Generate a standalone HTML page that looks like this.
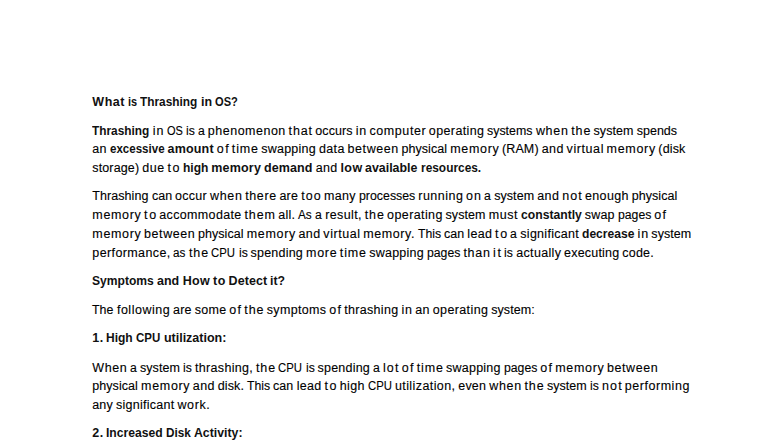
<!DOCTYPE html><html><head><meta charset="utf-8"><style>html,body{margin:0;padding:0;background:#fff;width:784px;height:441px;overflow:hidden;}body{position:relative;font-family:"Liberation Sans",sans-serif;color:#000;}i{position:absolute;font-style:normal;white-space:pre;font-size:12.5px;line-height:0;transform-origin:0 0;-webkit-text-stroke:0.12px #000;}i.b{font-weight:bold;color:#111;-webkit-text-stroke:0.0px #000;}</style></head><body>
<i class="b" style="left:92.30px;top:102.00px;letter-spacing:0.547px">What</i>
<i class="b" style="left:127.71px;top:102.00px;transform:scaleX(0.8743)">is</i>
<i class="b" style="left:140.03px;top:102.00px;transform:scaleX(0.9491)">Thrashing</i>
<i class="b" style="left:200.58px;top:102.00px;transform:scaleX(0.9972)">in</i>
<i class="b" style="left:214.86px;top:102.00px;transform:scaleX(0.8881)">OS?</i>
<i class="b" style="left:92.30px;top:131.00px;transform:scaleX(0.9491)">Thrashing</i>
<i style="left:152.85px;top:131.00px;letter-spacing:0.953px">in</i>
<i style="left:166.74px;top:131.00px;transform:scaleX(0.8798)">OS</i>
<i style="left:185.83px;top:131.00px;transform:scaleX(0.9740)">is</i>
<i style="left:197.83px;top:131.00px;transform:scaleX(0.9753)">a</i>
<i style="left:207.82px;top:131.00px;letter-spacing:0.503px">phenomenon</i>
<i style="left:288.53px;top:131.00px;letter-spacing:0.906px">that</i>
<i style="left:315.32px;top:131.00px;letter-spacing:0.056px">occurs</i>
<i style="left:355.63px;top:131.00px;letter-spacing:0.953px">in</i>
<i style="left:369.52px;top:131.00px;letter-spacing:0.569px">computer</i>
<i style="left:428.82px;top:131.00px;letter-spacing:0.389px">operating</i>
<i style="left:487.25px;top:131.00px;transform:scaleX(0.9908)">systems</i>
<i style="left:535.88px;top:131.00px;letter-spacing:0.719px">when</i>
<i style="left:571.13px;top:131.00px;letter-spacing:0.922px">the</i>
<i style="left:593.57px;top:131.00px;letter-spacing:0.059px">system</i>
<i style="left:636.66px;top:131.00px;letter-spacing:0.025px">spends</i>
<i style="left:92.30px;top:149.20px;letter-spacing:0.312px">an</i>
<i class="b" style="left:109.72px;top:149.20px;transform:scaleX(0.9241)">excessive</i>
<i class="b" style="left:167.53px;top:149.20px;letter-spacing:0.191px">amount</i>
<i style="left:216.83px;top:149.20px;letter-spacing:1.359px">of</i>
<i style="left:231.83px;top:149.20px;letter-spacing:0.875px">time</i>
<i style="left:261.28px;top:149.20px;letter-spacing:0.230px">swapping</i>
<i style="left:318.93px;top:149.20px;letter-spacing:0.365px">data</i>
<i style="left:347.57px;top:149.20px;letter-spacing:0.568px">between</i>
<i style="left:401.44px;top:149.20px;letter-spacing:0.058px">physical</i>
<i style="left:450.22px;top:149.20px;letter-spacing:0.678px">memory</i>
<i style="left:501.97px;top:149.20px;letter-spacing:0.117px">(RAM)</i>
<i style="left:541.75px;top:149.20px;letter-spacing:0.398px">and</i>
<i style="left:566.61px;top:149.20px;letter-spacing:0.576px">virtual</i>
<i style="left:606.61px;top:149.20px;letter-spacing:0.678px">memory</i>
<i style="left:658.36px;top:149.20px;letter-spacing:0.137px">(disk</i>
<i style="left:92.30px;top:168.00px;letter-spacing:0.129px">storage)</i>
<i style="left:142.27px;top:168.00px;letter-spacing:0.531px">due</i>
<i style="left:167.39px;top:168.00px;letter-spacing:1.641px">to</i>
<i class="b" style="left:182.68px;top:168.00px;transform:scaleX(0.9621)">high</i>
<i class="b" style="left:211.27px;top:168.00px;letter-spacing:0.188px">memory</i>
<i class="b" style="left:264.05px;top:168.00px;letter-spacing:0.097px">demand</i>
<i style="left:315.68px;top:168.00px;letter-spacing:0.398px">and</i>
<i class="b" style="left:340.53px;top:168.00px;letter-spacing:0.383px">low</i>
<i class="b" style="left:365.35px;top:168.00px;transform:scaleX(0.9923)">available</i>
<i class="b" style="left:420.97px;top:168.00px;transform:scaleX(0.9516)">resources.</i>
<i style="left:92.30px;top:196.20px;letter-spacing:0.062px">Thrashing</i>
<i style="left:151.60px;top:196.20px;transform:scaleX(0.9969)">can</i>
<i style="left:174.89px;top:196.20px;letter-spacing:0.309px">occur</i>
<i style="left:209.91px;top:196.20px;letter-spacing:0.719px">when</i>
<i style="left:245.16px;top:196.20px;letter-spacing:0.629px">there</i>
<i style="left:279.38px;top:196.20px;letter-spacing:0.250px">are</i>
<i style="left:301.16px;top:196.20px;letter-spacing:1.078px">too</i>
<i style="left:323.91px;top:196.20px;letter-spacing:0.365px">many</i>
<i style="left:358.78px;top:196.20px;transform:scaleX(0.9879)">processes</i>
<i style="left:418.28px;top:196.20px;letter-spacing:0.484px">running</i>
<i style="left:466.10px;top:196.20px;letter-spacing:1.000px">on</i>
<i style="left:484.21px;top:196.20px;transform:scaleX(0.9753)">a</i>
<i style="left:494.19px;top:196.20px;letter-spacing:0.059px">system</i>
<i style="left:537.28px;top:196.20px;letter-spacing:0.398px">and</i>
<i style="left:562.14px;top:196.20px;letter-spacing:1.133px">not</i>
<i style="left:585.00px;top:196.20px;letter-spacing:0.356px">enough</i>
<i style="left:631.71px;top:196.20px;letter-spacing:0.058px">physical</i>
<i style="left:92.30px;top:215.00px;letter-spacing:0.678px">memory</i>
<i style="left:144.05px;top:215.00px;letter-spacing:1.641px">to</i>
<i style="left:159.33px;top:215.00px;letter-spacing:0.339px">accommodate</i>
<i style="left:244.44px;top:215.00px;letter-spacing:0.917px">them</i>
<i style="left:278.19px;top:215.00px;letter-spacing:0.292px">all.</i>
<i style="left:298.25px;top:215.00px;transform:scaleX(0.9411)">As</i>
<i style="left:315.19px;top:215.00px;transform:scaleX(0.9753)">a</i>
<i style="left:325.18px;top:215.00px;letter-spacing:0.375px">result,</i>
<i style="left:364.68px;top:215.00px;letter-spacing:0.922px">the</i>
<i style="left:387.11px;top:215.00px;letter-spacing:0.389px">operating</i>
<i style="left:445.55px;top:215.00px;letter-spacing:0.059px">system</i>
<i style="left:488.64px;top:215.00px;letter-spacing:0.594px">must</i>
<i class="b" style="left:520.72px;top:215.00px;transform:scaleX(0.9738)">constantly</i>
<i style="left:584.80px;top:215.00px;letter-spacing:0.156px">swap</i>
<i style="left:617.66px;top:215.00px;transform:scaleX(0.9794)">pages</i>
<i style="left:654.22px;top:215.00px;letter-spacing:1.359px">of</i>
<i style="left:92.30px;top:234.00px;letter-spacing:0.678px">memory</i>
<i style="left:144.05px;top:234.00px;letter-spacing:0.568px">between</i>
<i style="left:197.93px;top:234.00px;letter-spacing:0.058px">physical</i>
<i style="left:246.71px;top:234.00px;letter-spacing:0.678px">memory</i>
<i style="left:298.46px;top:234.00px;letter-spacing:0.398px">and</i>
<i style="left:323.32px;top:234.00px;letter-spacing:0.576px">virtual</i>
<i style="left:363.32px;top:234.00px;letter-spacing:0.583px">memory.</i>
<i style="left:417.71px;top:234.00px;transform:scaleX(0.9788)">This</i>
<i style="left:444.03px;top:234.00px;transform:scaleX(0.9969)">can</i>
<i style="left:467.33px;top:234.00px;letter-spacing:0.292px">lead</i>
<i style="left:495.05px;top:234.00px;letter-spacing:1.641px">to</i>
<i style="left:510.33px;top:234.00px;transform:scaleX(0.9753)">a</i>
<i style="left:520.32px;top:234.00px;letter-spacing:0.273px">significant</i>
<i class="b" style="left:581.85px;top:234.00px;transform:scaleX(0.9669)">decrease</i>
<i style="left:637.47px;top:234.00px;letter-spacing:0.953px">in</i>
<i style="left:651.36px;top:234.00px;letter-spacing:0.059px">system</i>
<i style="left:92.30px;top:252.60px;letter-spacing:0.389px">performance,</i>
<i style="left:173.44px;top:252.60px;transform:scaleX(0.9337)">as</i>
<i style="left:188.97px;top:252.60px;letter-spacing:0.922px">the</i>
<i style="left:211.41px;top:252.60px;transform:scaleX(0.9071)">CPU</i>
<i style="left:238.57px;top:252.60px;transform:scaleX(0.9740)">is</i>
<i style="left:250.57px;top:252.60px;letter-spacing:0.214px">spending</i>
<i style="left:306.02px;top:252.60px;letter-spacing:0.698px">more</i>
<i style="left:339.80px;top:252.60px;letter-spacing:0.875px">time</i>
<i style="left:369.25px;top:252.60px;letter-spacing:0.230px">swapping</i>
<i style="left:426.89px;top:252.60px;transform:scaleX(0.9794)">pages</i>
<i style="left:463.46px;top:252.60px;letter-spacing:0.688px">than</i>
<i style="left:493.07px;top:252.60px;letter-spacing:1.750px">it</i>
<i style="left:504.27px;top:252.60px;transform:scaleX(0.9740)">is</i>
<i style="left:516.27px;top:252.60px;letter-spacing:0.321px">actually</i>
<i style="left:564.11px;top:252.60px;letter-spacing:0.191px">executing</i>
<i style="left:622.36px;top:252.60px;letter-spacing:0.199px">code.</i>
<i class="b" style="left:92.30px;top:281.00px;transform:scaleX(0.9670)">Symptoms</i>
<i class="b" style="left:157.30px;top:281.00px;transform:scaleX(0.9979)">and</i>
<i class="b" style="left:182.69px;top:281.00px;letter-spacing:0.336px">How</i>
<i class="b" style="left:212.96px;top:281.00px;letter-spacing:0.578px">to</i>
<i class="b" style="left:228.55px;top:281.00px;letter-spacing:0.087px">Detect</i>
<i class="b" style="left:270.41px;top:281.00px;transform:scaleX(0.9785)">it?</i>
<i style="left:92.30px;top:310.00px;transform:scaleX(0.9927)">The</i>
<i style="left:116.89px;top:310.00px;letter-spacing:0.529px">following</i>
<i style="left:172.97px;top:310.00px;letter-spacing:0.250px">are</i>
<i style="left:194.75px;top:310.00px;letter-spacing:0.260px">some</i>
<i style="left:229.32px;top:310.00px;letter-spacing:1.359px">of</i>
<i style="left:244.32px;top:310.00px;letter-spacing:0.922px">the</i>
<i style="left:266.75px;top:310.00px;letter-spacing:0.335px">symptoms</i>
<i style="left:329.25px;top:310.00px;letter-spacing:1.359px">of</i>
<i style="left:344.25px;top:310.00px;letter-spacing:0.312px">thrashing</i>
<i style="left:401.39px;top:310.00px;letter-spacing:0.953px">in</i>
<i style="left:415.28px;top:310.00px;letter-spacing:0.312px">an</i>
<i style="left:432.71px;top:310.00px;letter-spacing:0.389px">operating</i>
<i style="left:491.14px;top:310.00px;letter-spacing:0.102px">system:</i>
<i class="b" style="left:92.30px;top:338.10px;letter-spacing:0.531px">1.</i>
<i class="b" style="left:106.47px;top:338.10px;transform:scaleX(0.9618)">High</i>
<i class="b" style="left:136.39px;top:338.10px;transform:scaleX(0.9195)">CPU</i>
<i class="b" style="left:163.88px;top:338.10px;letter-spacing:0.004px">utilization:</i>
<i style="left:92.30px;top:367.60px;letter-spacing:0.620px">When</i>
<i style="left:130.02px;top:367.60px;transform:scaleX(0.9753)">a</i>
<i style="left:140.00px;top:367.60px;letter-spacing:0.059px">system</i>
<i style="left:183.10px;top:367.60px;transform:scaleX(0.9740)">is</i>
<i style="left:195.10px;top:367.60px;letter-spacing:0.302px">thrashing,</i>
<i style="left:255.93px;top:367.60px;letter-spacing:0.922px">the</i>
<i style="left:278.36px;top:367.60px;transform:scaleX(0.9071)">CPU</i>
<i style="left:305.52px;top:367.60px;transform:scaleX(0.9740)">is</i>
<i style="left:317.52px;top:367.60px;letter-spacing:0.214px">spending</i>
<i style="left:372.97px;top:367.60px;transform:scaleX(0.9753)">a</i>
<i style="left:382.96px;top:367.60px;letter-spacing:1.133px">lot</i>
<i style="left:401.63px;top:367.60px;letter-spacing:1.359px">of</i>
<i style="left:416.63px;top:367.60px;letter-spacing:0.875px">time</i>
<i style="left:446.08px;top:367.60px;letter-spacing:0.230px">swapping</i>
<i style="left:503.72px;top:367.60px;transform:scaleX(0.9794)">pages</i>
<i style="left:540.28px;top:367.60px;letter-spacing:1.359px">of</i>
<i style="left:555.28px;top:367.60px;letter-spacing:0.678px">memory</i>
<i style="left:607.03px;top:367.60px;letter-spacing:0.568px">between</i>
<i style="left:92.30px;top:386.00px;letter-spacing:0.058px">physical</i>
<i style="left:141.08px;top:386.00px;letter-spacing:0.678px">memory</i>
<i style="left:192.83px;top:386.00px;letter-spacing:0.398px">and</i>
<i style="left:217.69px;top:386.00px;letter-spacing:0.133px">disk.</i>
<i style="left:247.13px;top:386.00px;transform:scaleX(0.9788)">This</i>
<i style="left:273.46px;top:386.00px;transform:scaleX(0.9969)">can</i>
<i style="left:296.75px;top:386.00px;letter-spacing:0.292px">lead</i>
<i style="left:324.47px;top:386.00px;letter-spacing:1.641px">to</i>
<i style="left:339.75px;top:386.00px;letter-spacing:0.385px">high</i>
<i style="left:367.75px;top:386.00px;transform:scaleX(0.9071)">CPU</i>
<i style="left:394.91px;top:386.00px;letter-spacing:0.415px">utilization,</i>
<i style="left:458.27px;top:386.00px;letter-spacing:0.203px">even</i>
<i style="left:489.19px;top:386.00px;letter-spacing:0.719px">when</i>
<i style="left:524.44px;top:386.00px;letter-spacing:0.922px">the</i>
<i style="left:546.88px;top:386.00px;letter-spacing:0.059px">system</i>
<i style="left:589.97px;top:386.00px;transform:scaleX(0.9740)">is</i>
<i style="left:601.97px;top:386.00px;letter-spacing:1.133px">not</i>
<i style="left:624.83px;top:386.00px;letter-spacing:0.528px">performing</i>
<i style="left:92.30px;top:404.70px;letter-spacing:0.109px">any</i>
<i style="left:115.88px;top:404.70px;letter-spacing:0.273px">significant</i>
<i style="left:177.41px;top:404.70px;letter-spacing:0.633px">work.</i>
<i class="b" style="left:92.30px;top:433.10px;letter-spacing:0.531px">2.</i>
<i class="b" style="left:106.47px;top:433.10px;transform:scaleX(0.9706)">Increased</i>
<i class="b" style="left:166.33px;top:433.10px;transform:scaleX(0.9408)">Disk</i>
<i class="b" style="left:194.38px;top:433.10px;transform:scaleX(0.9829)">Activity:</i>
</body></html>
